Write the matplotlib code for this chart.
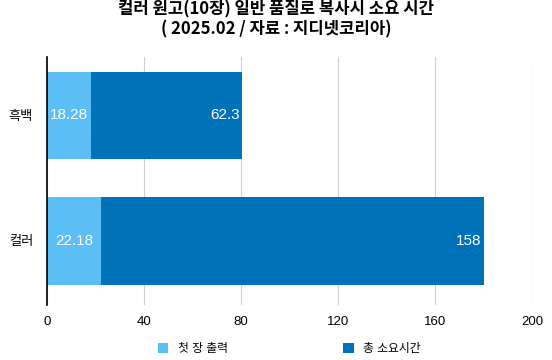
import matplotlib
matplotlib.use("Agg")
import matplotlib.pyplot as plt
import numpy as np

plt.rcParams['font.family'] = ['Liberation Sans', 'Noto Sans CJK KR', 'DejaVu Sans']

categories = ['컬러', '흑백']
first_page = [22.18, 18.28]
total_time = [158, 62.3]
series_names = ['첫 장 출력', '총 소요시간']
colors = ['#5BBEF5', '#0072BA']
xticks = [0, 40, 80, 120, 160, 200]

fig = plt.figure(figsize=(5.52, 3.6), dpi=100)
ax = fig.add_axes([0.085, 0.153, 0.879, 0.69])

y = np.arange(len(categories))
b1 = ax.barh(y, first_page, height=0.7, color=colors[0], label=series_names[0], zorder=3)
b2 = ax.barh(y, total_time, left=first_page, height=0.7, color=colors[1], label=series_names[1], zorder=3)

# value labels: light part centered, dark part right aligned
for i in range(len(categories)):
    ax.text(first_page[i] / 2, y[i], f"{first_page[i]:g}", ha='center', va='center',
            color='white', fontsize=11, zorder=4)
    ax.text(first_page[i] + total_time[i] - 1, y[i], f"{total_time[i]:g}", ha='right', va='center',
            color='white', fontsize=11, zorder=4)

ax.set_xlim(0, 200)
ax.set_ylim(-0.51, 1.47)
ax.set_xticks(xticks)
ax.set_yticks(y)
ax.set_yticklabels(categories)
ax.tick_params(axis='both', length=0, labelsize=9.5, pad=8)
ax.tick_params(axis='y', pad=10)
ax.grid(axis='x', color='#d0d0d0', linewidth=0.8, zorder=0)
for s in ['top', 'right', 'bottom']:
    ax.spines[s].set_visible(False)
ax.spines['left'].set_color('black')
ax.spines['left'].set_linewidth(1.2)
ax.spines['left'].set_zorder(5)

fig.suptitle('컬러 원고(10장) 일반 품질로 복사시 소요 시간\n( 2025.02 / 자료 : 지디넷코리아)',
             family=['Noto Sans CJK KR'], fontsize=12, fontweight='bold', y=0.998, linespacing=1.1)

fig.legend(handles=[b1, b2], loc='lower center', ncol=2, frameon=False, fontsize=8.5,
           bbox_to_anchor=(0.524, -0.015), columnspacing=9.8, handlelength=0.9, handleheight=0.9)

fig.savefig('out.png', dpi=100)
